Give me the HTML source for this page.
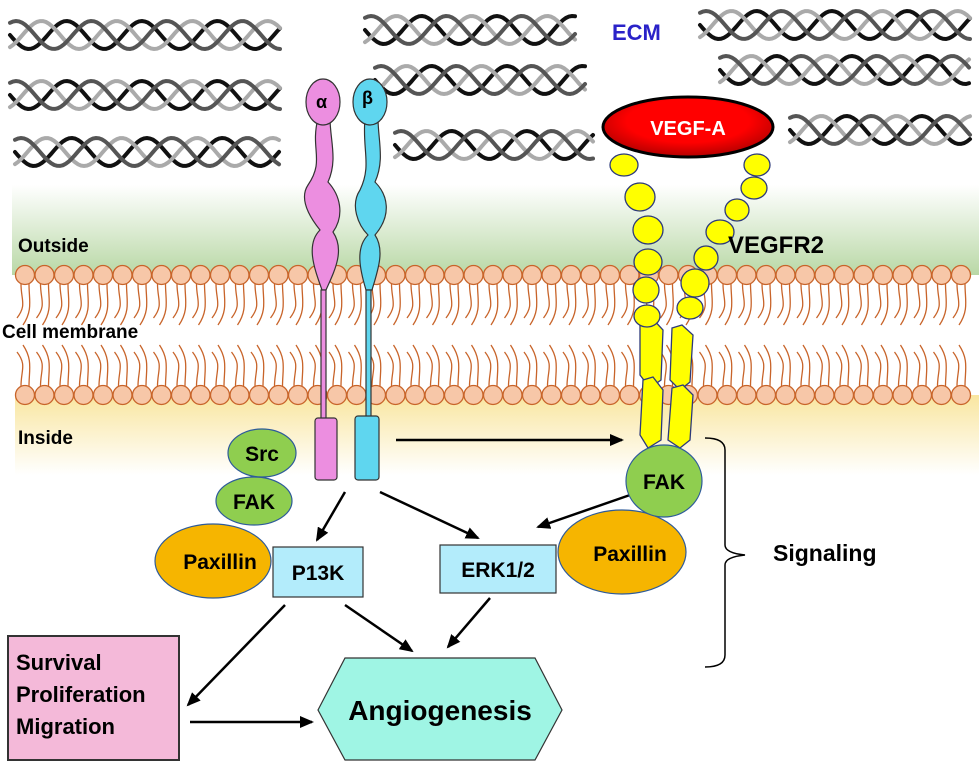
<!DOCTYPE html>
<html><head><meta charset="utf-8">
<style>
html,body{margin:0;padding:0;background:#fff;}
svg{display:block;font-family:"Liberation Sans",Arial,sans-serif;font-weight:bold;}
</style></head>
<body>
<svg id="s" width="979" height="770" viewBox="0 0 979 770" xmlns="http://www.w3.org/2000/svg">
<defs>
<linearGradient id="gg" x1="0" y1="0" x2="0" y2="1">
<stop offset="0" stop-color="#fff"/><stop offset="1" stop-color="#b9d8a6"/></linearGradient>
<linearGradient id="yg" x1="0" y1="0" x2="0" y2="1">
<stop offset="0" stop-color="#f9e6a0"/><stop offset="1" stop-color="#fff"/></linearGradient>
<radialGradient id="rg" cx="0.5" cy="0.4" r="0.6"><stop offset="0.6" stop-color="#ff0000"/><stop offset="1" stop-color="#b30000"/></radialGradient>
<marker id="ar" markerWidth="14" markerHeight="12" refX="12" refY="6" orient="auto" markerUnits="userSpaceOnUse">
<path d="M0,0 L14,6 L0,12 Z" fill="#000"/></marker>
</defs>
<rect x="12" y="185" width="967" height="90" fill="url(#gg)"/>
<rect x="15" y="395" width="964" height="80" fill="url(#yg)"/>
<g id="dna" fill="none" stroke-width="4" stroke-linecap="round"></g>
<g id="mem"></g>

<text x="18" y="252" font-size="19">Outside</text>
<text x="2" y="338" font-size="19">Cell membrane</text>
<text x="18" y="444" font-size="19">Inside</text>
<text x="612" y="40" font-size="22" fill="#2a22c8">ECM</text>

<g stroke="#333" stroke-width="1.2">
<path d="M318,118 C310,150 325,160 308,185 C298,200 312,220 320,230 C305,245 315,270 322,290 L326,290 C335,270 345,250 333,232 C345,215 340,195 328,182 C338,160 330,140 330,118 Z" fill="#ec8ee0"/>
<ellipse cx="323" cy="102" rx="17" ry="23" fill="#ec8ee0"/>
<rect x="321" y="290" width="5" height="130" fill="#ec8ee0"/>
<rect x="315" y="418" width="22" height="62" rx="3" fill="#ec8ee0"/>
<path d="M365,118 C362,150 372,165 360,190 C350,205 358,225 368,235 C355,248 360,270 366,290 L372,290 C378,270 385,250 375,235 C392,215 388,195 375,182 C385,160 378,140 378,118 Z" fill="#5fd6ef"/>
<ellipse cx="370" cy="102" rx="17" ry="23" fill="#5fd6ef"/>
<rect x="366" y="290" width="5" height="128" fill="#5fd6ef"/>
<rect x="355" y="416" width="24" height="64" rx="3" fill="#5fd6ef"/>
</g>
<text x="316" y="108" font-size="18">α</text>
<text x="362" y="104" font-size="18">β</text>

<g id="vr" fill="#ffff00" stroke="#2d3a7a" stroke-width="1.3">
<path d="M640,323 L652,318 L663,330 L661,380 L650,388 L640,375 Z"/>
<path d="M643,380 L653,377 L663,390 L661,440 L648,448 L640,435 Z"/>
<path d="M672,328 L682,325 L693,335 L690,382 L680,390 L670,380 Z"/>
<path d="M672,388 L683,385 L693,395 L690,440 L680,448 L668,440 Z"/>
</g>
<ellipse cx="688" cy="127" rx="85" ry="30" fill="url(#rg)" stroke="#000" stroke-width="3"/>
<text x="688" y="135" font-size="20" fill="#fff" text-anchor="middle">VEGF-A</text>
<text x="728" y="253" font-size="24">VEGFR2</text>

<g stroke="#000" stroke-width="2.5" marker-end="url(#ar)">
<line x1="396" y1="440" x2="622" y2="440"/>
<line x1="345" y1="492" x2="317" y2="540"/>
<line x1="380" y1="492" x2="478" y2="538"/>
<line x1="630" y1="495" x2="538" y2="527"/>
<line x1="285" y1="605" x2="188" y2="705"/>
<line x1="345" y1="605" x2="412" y2="651"/>
<line x1="490" y1="598" x2="448" y2="647"/>
<line x1="190" y1="722" x2="312" y2="722"/>
</g>
<path d="M705,438 Q725,438 725,450 L725,545 Q725,553 745,555 Q725,557 725,565 L725,655 Q725,667 705,667" fill="none" stroke="#000" stroke-width="1.5"/>
<text x="773" y="561" font-size="23">Signaling</text>

<g stroke="#2e5b9a" stroke-width="1.2">
<ellipse cx="262" cy="453" rx="34" ry="24" fill="#8fce4f"/>
<ellipse cx="254" cy="501" rx="38" ry="24" fill="#8fce4f"/>
<ellipse cx="213" cy="561" rx="58" ry="37" fill="#f6b500"/>
<ellipse cx="622" cy="552" rx="64" ry="42" fill="#f6b500"/>
<ellipse cx="664" cy="481" rx="38" ry="36" fill="#8fce4f"/>
<rect x="273" y="547" width="90" height="50" fill="#b3ecfb" stroke="#333"/>
<rect x="440" y="545" width="116" height="48" fill="#b3ecfb" stroke="#333"/>
</g>
<g font-size="21" text-anchor="middle">
<text x="262" y="461">Src</text>
<text x="254" y="509">FAK</text>
<text x="220" y="569">Paxillin</text>
<text x="630" y="561">Paxillin</text>
<text x="664" y="489">FAK</text>
<text x="318" y="580">P13K</text>
<text x="498" y="577">ERK1/2</text>
</g>
<rect x="8" y="636" width="171" height="124" fill="#f4b9d9" stroke="#333" stroke-width="2"/>
<g font-size="22"><text x="16" y="670">Survival</text><text x="16" y="702">Proliferation</text><text x="16" y="734">Migration</text></g>
<polygon points="318,710 345,658 535,658 562,710 535,760 345,760" fill="#9ff5e4" stroke="#333" stroke-width="1.2"/>
<text x="440" y="720" font-size="28" text-anchor="middle">Angiogenesis</text>
</svg>
<script>
var NS="http://www.w3.org/2000/svg";
function el(p,t,a){var e=document.createElementNS(NS,t);for(var k in a)e.setAttribute(k,a[k]);p.appendChild(e);return e;}
var mem=document.getElementById("mem");
var tails="";
for(var x=25;x<979;x+=19.5){
 tails+="M"+(x-4)+",284 C"+(x-4)+",300 "+(x+2)+",305 "+(x-8)+",318 "+"M"+(x+4)+",284 C"+(x+4)+",300 "+(x+8)+",310 "+(x-2)+",325 ";
 tails+="M"+(x-4)+",386 C"+(x-4)+",370 "+(x+2)+",365 "+(x-8)+",352 "+"M"+(x+4)+",386 C"+(x+4)+",370 "+(x+8)+",360 "+(x-2)+",345 ";
}
el(mem,"path",{d:tails,fill:"none",stroke:"#c8642a","stroke-width":1.3});
for(var x=25;x<979;x+=19.5){
 el(mem,"circle",{cx:x,cy:275,r:9.5,fill:"#f7c7a8",stroke:"#c8642a","stroke-width":1.3});
 el(mem,"circle",{cx:x,cy:395,r:9.5,fill:"#f7c7a8",stroke:"#c8642a","stroke-width":1.3});
}
var vr=document.getElementById("vr");
var L=[[624,165,14,11],[640,197,15,14],[648,230,15,14],[648,262,14,13],[646,290,13,13],[647,316,13,11]];
var R=[[757,165,13,11],[754,188,13,11],[737,210,12,11],[720,232,14,12],[706,258,12,12],[695,283,14,14],[690,308,13,11]];
L.concat(R).forEach(function(c){el(vr,"ellipse",{cx:c[0],cy:c[1],rx:c[2],ry:c[3]});});
var dna=document.getElementById("dna");
var rows=[[10,35,270],[10,95,270],[15,152,265],[365,30,210],[375,80,210],[395,145,200],[700,25,270],[720,70,250],[790,130,180]];
rows.forEach(function(r){
 [["#111",0],["#aaa",2.1],["#555",4.2]].forEach(function(s){
  var d="";for(var i=0;i<=r[2];i+=3){var y=r[1]+14*Math.sin(i/12+s[1]);d+=(i?"L":"M")+(r[0]+i)+","+y.toFixed(1);}
  el(dna,"path",{d:d,stroke:s[0]});
 });
});
</script>
</body></html>
